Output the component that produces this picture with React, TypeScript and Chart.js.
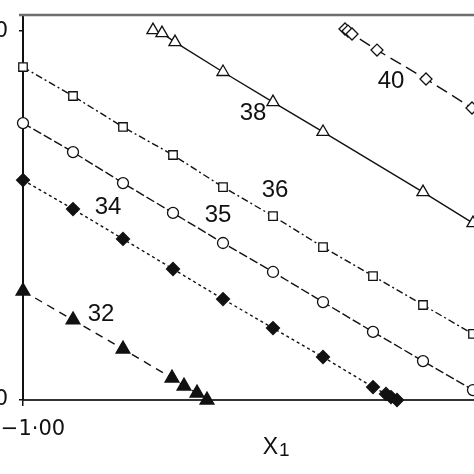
import React, { useEffect, useRef } from "react";
import { Chart, registerables } from "chart.js";

Chart.register(...registerables);

// Contour 40 (open diamonds)
const c40X = [0.288, 0.3, 0.316, 0.416, 0.612, 0.796];
const c40Y = [1.011, 1.0, 0.984, 0.897, 0.74, 0.583];
// Contour 38 (open triangles)
const c38X = [-0.48, -0.444, -0.392, -0.2, 0, 0.2, 0.6, 0.8];
const c38Y = [1.005, 0.989, 0.94, 0.778, 0.615, 0.453, 0.127, -0.041];
// Contour 36 (open squares)
const c36X = [-1, -0.8, -0.6, -0.4, -0.2, 0, 0.2, 0.4, 0.6, 0.8];
const c36Y = [0.805, 0.648, 0.48, 0.328, 0.154, -0.003, -0.171, -0.328, -0.485, -0.642];
// Contour 35 (open circles)
const c35X = [-1, -0.8, -0.6, -0.4, -0.2, 0, 0.2, 0.4, 0.6, 0.8];
const c35Y = [0.501, 0.344, 0.176, 0.014, -0.149, -0.306, -0.469, -0.631, -0.789, -0.946];
// Contour 34 (filled diamonds)
const c34X = [-1, -0.8, -0.6, -0.4, -0.2, 0, 0.2, 0.4, 0.452, 0.472, 0.496];
const c34Y = [0.192, 0.035, -0.127, -0.29, -0.453, -0.61, -0.767, -0.93, -0.967, -0.984, -1.0];
// Contour 32 (filled triangles)
const c32X = [-1, -0.8, -0.6, -0.404, -0.356, -0.304, -0.264];
const c32Y = [-0.409, -0.566, -0.724, -0.881, -0.924, -0.962, -1.0];

// Contour labels (text and anchor in data units)
const labelText = ["40", "38", "36", "35", "34", "32"];
const labelX = [0.472, -0.08, 0.008, -0.22, -0.66, -0.688];
const labelY = [0.729, 0.556, 0.138, 0.003, 0.046, -0.534];

// Axis ticks
const xTickValues = [-1, 1];
const xTickLabels = ["\u22121\u00b700", "1\u00b700"];
const yTickValues = [-1, 1];
const yTickLabels = ["\u22121\u00b700", "1\u00b700"];
const xTitleMain = "X";
const xTitleSub = "1";

const INK = "#111";
const TICK_FONT = '"DejaVu Sans", sans-serif';
const LABEL_FONT = '"Liberation Sans", Arial, sans-serif';

export default function App() {
  const ref = useRef<HTMLCanvasElement>(null);

  useEffect(() => {
    const canvas = ref.current;
    if (!canvas) return;

    const mk = (
      label: string,
      xs: number[],
      ys: number[],
      style: string,
      radius: number,
      filled: boolean,
      dash: number[]
    ) => ({
      label,
      data: xs.map((x, i) => ({ x, y: ys[i] })),
      showLine: true,
      borderColor: INK,
      borderWidth: 1.4,
      borderDash: dash,
      pointStyle: style,
      pointRadius: radius,
      pointHoverRadius: radius,
      pointBackgroundColor: filled ? INK : "#fff",
      pointBorderColor: INK,
      pointBorderWidth: 1.3,
      fill: false,
      tension: 0,
      clip: false as any,
    });

    const labelsPlugin = {
      id: "contourLabels",
      afterDatasetsDraw(chart: any) {
        const { ctx, scales } = chart;
        ctx.save();
        ctx.font = `24px ${LABEL_FONT}`;
        ctx.fillStyle = INK;
        ctx.textAlign = "center";
        ctx.textBaseline = "middle";
        labelText.forEach((t, i) => {
          ctx.fillText(t, scales.x.getPixelForValue(labelX[i]), scales.y.getPixelForValue(labelY[i]));
        });
        ctx.restore();
      },
    };

    const framePlugin = {
      id: "topFrame",
      afterDraw(chart: any) {
        const { ctx, chartArea: a } = chart;
        ctx.save();
        ctx.strokeStyle = "#6e6e6e";
        ctx.lineWidth = 2.5;
        ctx.beginPath();
        ctx.moveTo(a.left - 4, a.top);
        ctx.lineTo(a.right + 60, a.top);
        ctx.stroke();

        // axis title X with subscript 1
        const cx = (a.left + a.right) / 2;
        ctx.fillStyle = INK;
        ctx.textBaseline = "alphabetic";
        ctx.font = `23px ${LABEL_FONT}`;
        ctx.textAlign = "right";
        ctx.fillText(xTitleMain, cx + 5, a.bottom + 54);
        ctx.font = `19px ${LABEL_FONT}`;
        ctx.textAlign = "left";
        ctx.fillText(xTitleSub, cx + 6, a.bottom + 56);
        ctx.restore();
      },
    };

    const chart = new Chart(canvas, {
      type: "scatter",
      data: {
        datasets: [
          mk("40", c40X, c40Y, "rectRot", 6, false, [12, 6]),
          mk("38", c38X, c38Y, "triangle", 7, false, []),
          mk("36", c36X, c36Y, "rect", 6, false, [7, 3, 2, 3]),
          mk("35", c35X, c35Y, "circle", 5.5, false, [9, 3]),
          mk("34", c34X, c34Y, "rectRot", 6.5, true, [3, 3]),
          mk("32", c32X, c32Y, "triangle", 8, true, [8, 6]),
        ] as any,
      },
      options: {
        animation: false,
        responsive: false,
        events: [],
        layout: { padding: { top: 15, right: 57, left: 0, bottom: 0 } },
        plugins: {
          legend: { display: false },
          tooltip: { enabled: false },
        },
        scales: {
          x: {
            type: "linear",
            min: -1,
            max: 1,
            afterBuildTicks: (s: any) => {
              s.ticks = xTickValues.map((value) => ({ value }));
            },
            afterFit: (s: any) => {
              s.height = 74;
              s.paddingLeft = 0;
              s.paddingRight = 0;
            },
            border: { display: true, color: "#333", width: 2 },
            grid: { display: true, drawOnChartArea: false, drawTicks: true, tickLength: 6, color: INK, lineWidth: 1.5 },
            ticks: {
              autoSkip: false,
              maxRotation: 0,
              color: INK,
              padding: 11,
              labelOffset: 10,
              font: { family: TICK_FONT, size: 21 },
              callback: (v: any) => xTickLabels[xTickValues.indexOf(Number(v))] ?? "",
            },
          },
          y: {
            type: "linear",
            min: -1,
            max: 1.087,
            afterBuildTicks: (s: any) => {
              s.ticks = yTickValues.map((value) => ({ value }));
            },
            afterFit: (s: any) => {
              s.width = 83;
              s.paddingTop = 0;
              s.paddingBottom = 0;
            },
            border: { display: true, color: INK, width: 2 },
            grid: { display: true, drawOnChartArea: false, drawTicks: true, tickLength: 4, color: INK, lineWidth: 1.5 },
            ticks: {
              autoSkip: false,
              color: INK,
              padding: 11,
              font: { family: TICK_FONT, size: 21 },
              callback: (v: any) => yTickLabels[yTickValues.indexOf(Number(v))] ?? "",
            },
          },
        },
      } as any,
      plugins: [labelsPlugin, framePlugin],
    });

    return () => chart.destroy();
  }, []);

  return (
    <div
      style={{
        position: "fixed",
        left: 0,
        top: 0,
        width: 474,
        height: 474,
        overflow: "hidden",
        background: "#fff",
      }}
    >
      <canvas
        ref={ref}
        width={640}
        height={474}
        style={{ position: "absolute", left: -60, top: 0, width: 640, height: 474 }}
      />
    </div>
  );
}
